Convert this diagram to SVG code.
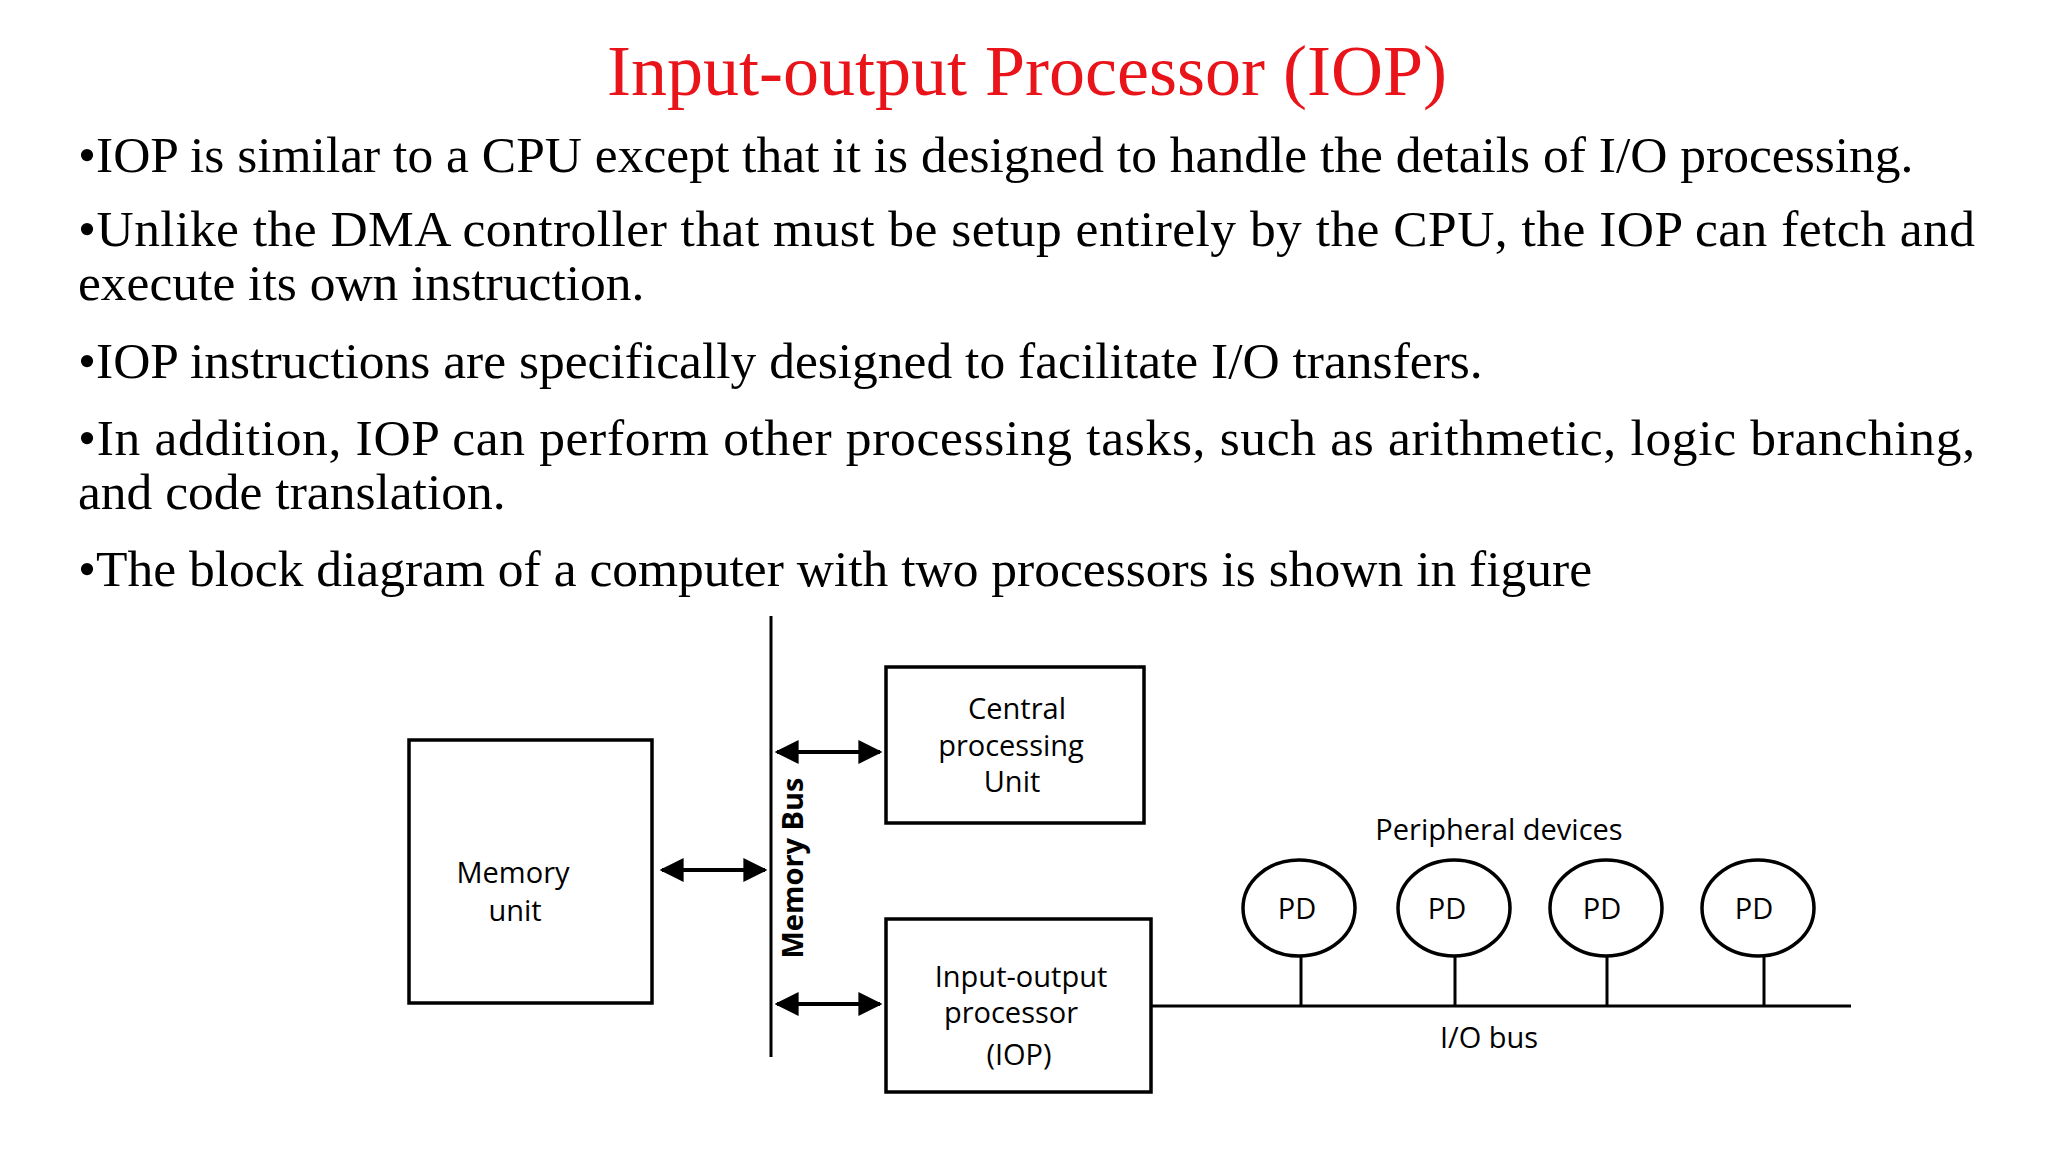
<svg xmlns="http://www.w3.org/2000/svg" width="2048" height="1152" viewBox="0 0 2048 1152">
<defs>
<marker id="ah" viewBox="0 0 10 10" refX="9" refY="5" markerWidth="6" markerHeight="6" orient="auto-start-reverse"><path d="M0,0 L10,5 L0,10 z" fill="#000"/></marker>
<style>
.b{font-family:"Liberation Serif","Times New Roman",serif;font-size:51.5px;fill:#000}
.d{font-family:"Open Sans","Noto Sans",sans-serif;font-size:29px;fill:#000;text-anchor:middle}
.box{fill:#fff;stroke:#000;stroke-width:3.5}
.ln{stroke:#000;stroke-width:3;fill:none}
.ar{stroke:#000;stroke-width:4;fill:none;marker-start:url(#ah);marker-end:url(#ah)}
</style>
</defs>
<rect width="2048" height="1152" fill="#fff"/>
<text x="1027" y="95" text-anchor="middle" font-family="Liberation Serif,serif" font-size="72" fill="#e8141a">Input-output Processor (IOP)</text>
<text class="b" x="78" y="172">•IOP is similar to a CPU except that it is designed to handle the details of I/O processing.</text>
<text class="b" x="78" y="246" textLength="1897" lengthAdjust="spacing">•Unlike the DMA controller that must be setup entirely by the CPU, the IOP can fetch and</text>
<text class="b" x="78" y="300">execute its own instruction.</text>
<text class="b" x="78" y="378">•IOP instructions are specifically designed to facilitate I/O transfers.</text>
<text class="b" x="78" y="455" textLength="1897" lengthAdjust="spacing">•In addition, IOP can perform other processing tasks, such as arithmetic, logic branching,</text>
<text class="b" x="78" y="509">and code translation.</text>
<text class="b" x="78" y="586">•The block diagram of a computer with two processors is shown in figure</text>
<g id="connectors">
<line class="ln" x1="771" y1="616" x2="771" y2="1057"/>
<line class="ar" x1="662" y1="870" x2="765" y2="870"/>
<line class="ar" x1="777" y1="752" x2="880" y2="752"/>
<line class="ar" x1="777" y1="1004" x2="880" y2="1004"/>
<line class="ln" x1="1151" y1="1006" x2="1851" y2="1006" stroke-width="4"/>
<line class="ln" x1="1301" y1="956" x2="1301" y2="1006"/>
<line class="ln" x1="1455" y1="956" x2="1455" y2="1006"/>
<line class="ln" x1="1607" y1="956" x2="1607" y2="1006"/>
<line class="ln" x1="1764" y1="956" x2="1764" y2="1006"/>
</g>
<text class="d" transform="translate(803,868) rotate(-90)" font-weight="bold" font-size="29">Memory Bus</text>
<g id="memory"><rect class="box" x="409" y="740" width="243" height="263"/>
<text class="d" x="513" y="883">Memory</text><text class="d" x="515" y="921">unit</text></g>
<g id="cpu"><rect class="box" x="886" y="667" width="258" height="156"/>
<text class="d" x="1017" y="719">Central</text><text class="d" x="1011" y="756">processing</text><text class="d" x="1012" y="792">Unit</text></g>
<g id="iop"><rect class="box" x="886" y="919" width="265" height="173"/>
<text class="d" x="1021" y="987">Input-output</text><text class="d" x="1011" y="1023">processor</text><text class="d" x="1019" y="1065">(IOP)</text></g>
<text class="d" x="1499" y="840">Peripheral devices</text>
<text class="d" x="1489" y="1048">I/O bus</text>
<g id="pd1"><ellipse class="box" cx="1299" cy="908" rx="56" ry="48"/><text class="d" x="1297" y="919">PD</text></g>
<g id="pd2"><ellipse class="box" cx="1454" cy="908" rx="56" ry="48"/><text class="d" x="1447" y="919">PD</text></g>
<g id="pd3"><ellipse class="box" cx="1606" cy="908" rx="56" ry="48"/><text class="d" x="1602" y="919">PD</text></g>
<g id="pd4"><ellipse class="box" cx="1758" cy="908" rx="56" ry="48"/><text class="d" x="1754" y="919">PD</text></g>
</svg>
